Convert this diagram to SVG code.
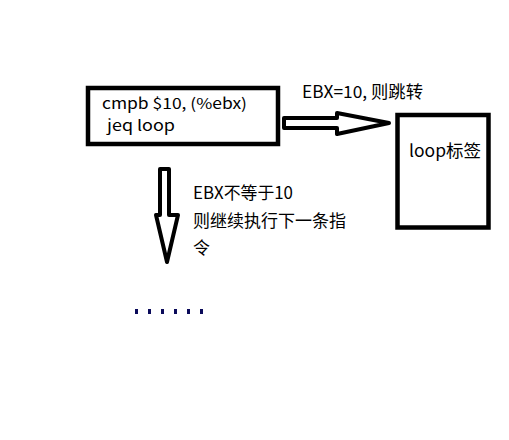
<svg xmlns="http://www.w3.org/2000/svg" width="509" height="440" viewBox="0 0 509 440">
<style>
.box{fill:#fff;stroke:#000;stroke-width:4.5}
.arr{fill:#fff;stroke:#000;stroke-width:4;stroke-linejoin:round}
.t{font-family:"Noto Sans CJK SC","Microsoft YaHei",sans-serif;font-size:17px;fill:#000}
.s{font-size:15px}
.dot{fill:#0a0a5a}
</style>
<rect width="509" height="440" fill="#fff"/>
<g id="connectors">
<polygon class="arr" points="284,118 337,118 337,113 389,123 337,134 337,128 284,128"/>
<polygon class="arr" points="160,169 169,169 169,215 178,215 167,262 156,215 160,215"/>
</g>
<g id="node-cmp">
<rect class="box" x="88" y="88" width="190" height="56"/>
<text class="t s" x="102" y="109" textLength="145" lengthAdjust="spacingAndGlyphs">cmpb $10, (%ebx)</text>
<text class="t s" x="107" y="131" textLength="68" lengthAdjust="spacingAndGlyphs">jeq loop</text>
</g>
<g id="node-loop">
<rect class="box" x="397.5" y="115" width="91" height="112.5"/>
<text class="t" x="409" y="157" textLength="72" lengthAdjust="spacingAndGlyphs">loop标签</text>
</g>
<g id="label-jump">
<text class="t" x="302" y="98" textLength="121" lengthAdjust="spacingAndGlyphs">EBX=10, 则跳转</text>
</g>
<g id="label-next">
<text class="t" x="193" y="198.5" textLength="100" lengthAdjust="spacingAndGlyphs">EBX不等于10</text>
<text class="t" x="193" y="227">则继续执行下一条指</text>
<text class="t" x="193" y="254">令</text>
</g>
<g id="dots">
<rect class="dot" x="135" y="309" width="3" height="5"/>
<rect class="dot" x="148" y="309" width="3" height="5"/>
<rect class="dot" x="161" y="309" width="3" height="5"/>
<rect class="dot" x="174" y="309" width="3" height="5"/>
<rect class="dot" x="187" y="309" width="3" height="5"/>
<rect class="dot" x="200" y="309" width="3" height="5"/>
</g>
</svg>
